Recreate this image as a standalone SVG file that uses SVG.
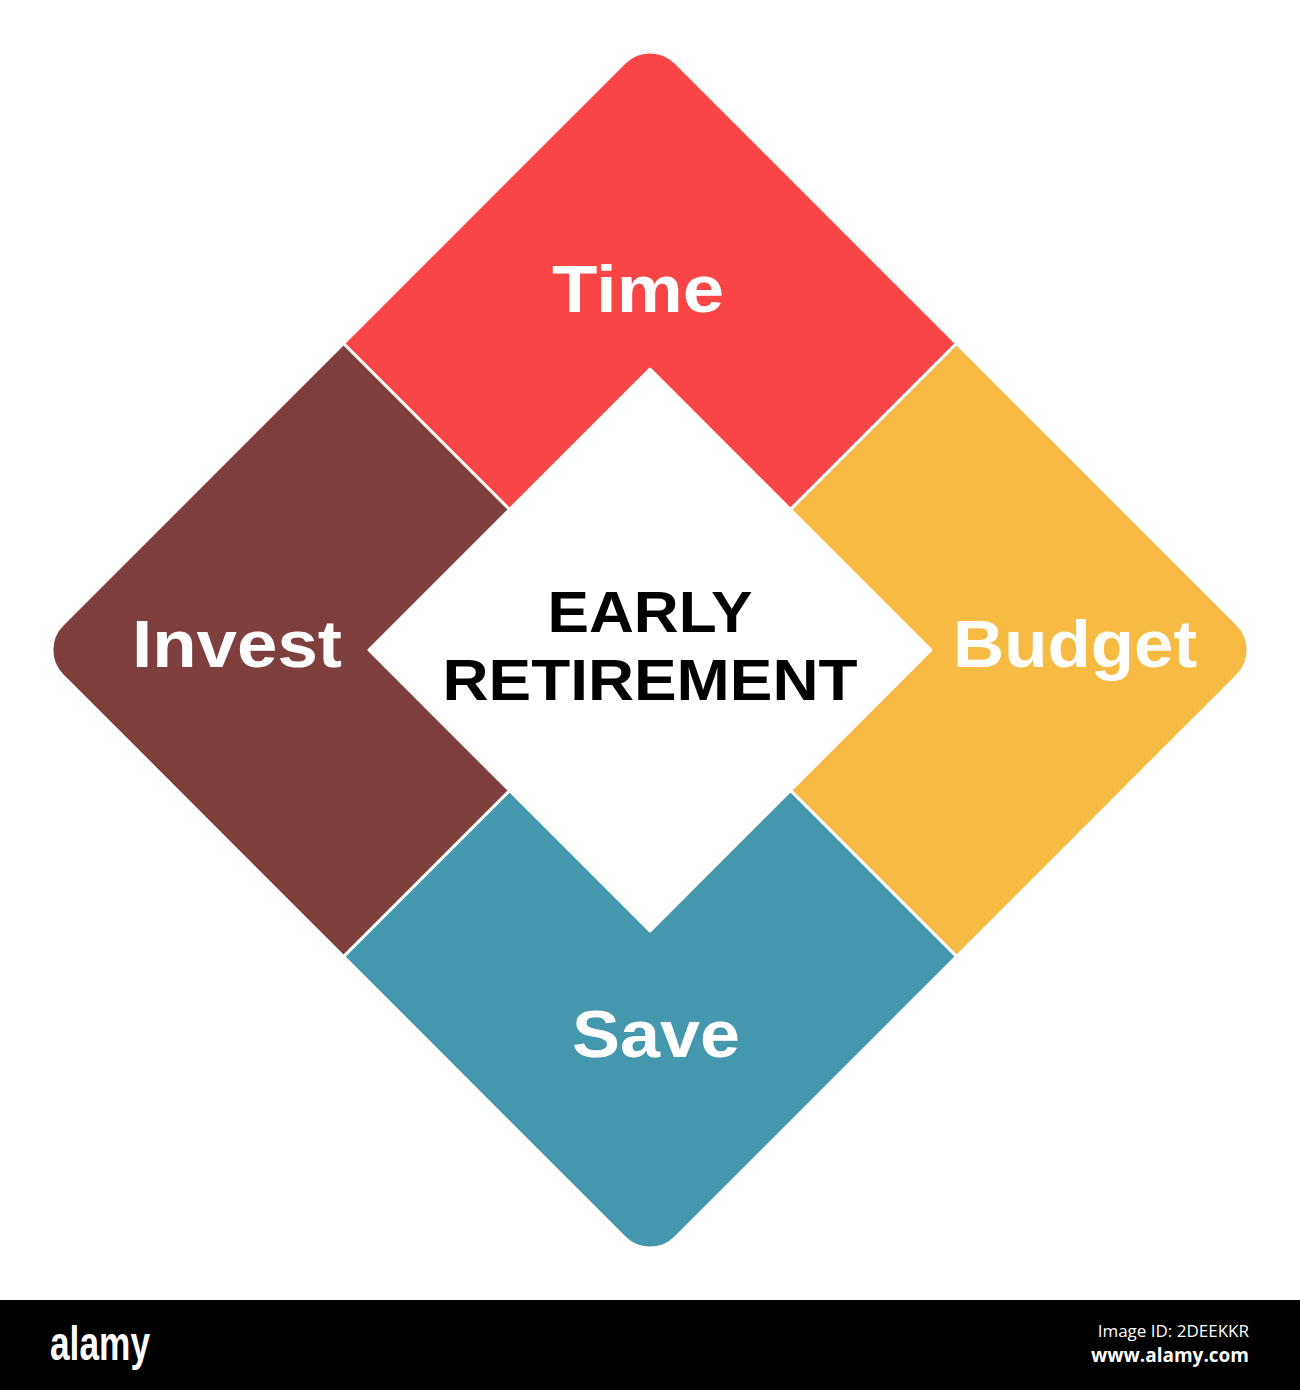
<svg xmlns="http://www.w3.org/2000/svg" width="1300" height="1390" viewBox="0 0 1300 1390">
<style>
.seg{stroke:#ffffff;stroke-width:3;stroke-linejoin:round}
.lbl{font-family:"Liberation Sans",Arial,sans-serif;font-weight:bold;font-size:66px;fill:#ffffff;text-anchor:middle}
.ctr{font-family:"Liberation Sans",Arial,sans-serif;font-weight:bold;font-size:57px;fill:#000000;text-anchor:middle}
</style>
<rect x="0" y="0" width="1300" height="1390" fill="#ffffff"/>
<g id="connectors"></g>
<g id="node-time">
<path class="seg" fill="#F94545" d="M343.5,343.5 L624.5,62.5 A36,36 0 0 1 675.5,62.5 L956.5,343.5 L790.5,509.5 L650,369 L509.5,509.5 Z"/>
<text class="lbl" x="638" y="312" textLength="172" lengthAdjust="spacingAndGlyphs">Time</text>
</g>
<g id="node-budget">
<path class="seg" fill="#F7BB43" d="M956.5,343.5 L1237.5,624.5 A36,36 0 0 1 1237.5,675.5 L956.5,956.5 L790.5,790.5 L931,650 L790.5,509.5 Z"/>
<text class="lbl" x="1075" y="667" textLength="244" lengthAdjust="spacingAndGlyphs">Budget</text>
</g>
<g id="node-save">
<path class="seg" fill="#4597AD" d="M956.5,956.5 L675.5,1237.5 A36,36 0 0 1 624.5,1237.5 L343.5,956.5 L509.5,790.5 L650,931 L790.5,790.5 Z"/>
<text class="lbl" x="656" y="1057" textLength="168" lengthAdjust="spacingAndGlyphs">Save</text>
</g>
<g id="node-invest">
<path class="seg" fill="#7F3F3F" d="M343.5,956.5 L62.5,675.5 A36,36 0 0 1 62.5,624.5 L343.5,343.5 L509.5,509.5 L369,650 L509.5,790.5 Z"/>
<text class="lbl" x="237" y="667" textLength="210" lengthAdjust="spacingAndGlyphs">Invest</text>
</g>
<g id="node-center">
<rect x="451.5" y="451.5" width="397" height="397" rx="14" ry="14" fill="#ffffff" transform="rotate(45 650 650)"/>
<text class="ctr" x="650" y="632" textLength="205" lengthAdjust="spacingAndGlyphs">EARLY</text>
<text class="ctr" x="650" y="700" textLength="415" lengthAdjust="spacingAndGlyphs">RETIREMENT</text>
</g>
<g id="footer">
<rect x="0" y="1300" width="1300" height="90" fill="#000000"/>
<text x="50" y="1360" font-family="'Liberation Sans Narrow','Liberation Sans',sans-serif" font-weight="bold" font-size="48" fill="#ffffff" textLength="100" lengthAdjust="spacingAndGlyphs">alamy</text>
<text x="1249" y="1337" font-family="'Open Sans','Noto Sans',sans-serif" font-size="17" fill="#ffffff" text-anchor="end">Image ID: 2DEEKKR</text>
<text x="1249" y="1362" font-family="'Open Sans','Noto Sans',sans-serif" font-weight="bold" font-size="19" fill="#ffffff" text-anchor="end">www.alamy.com</text>
</g>
</svg>
